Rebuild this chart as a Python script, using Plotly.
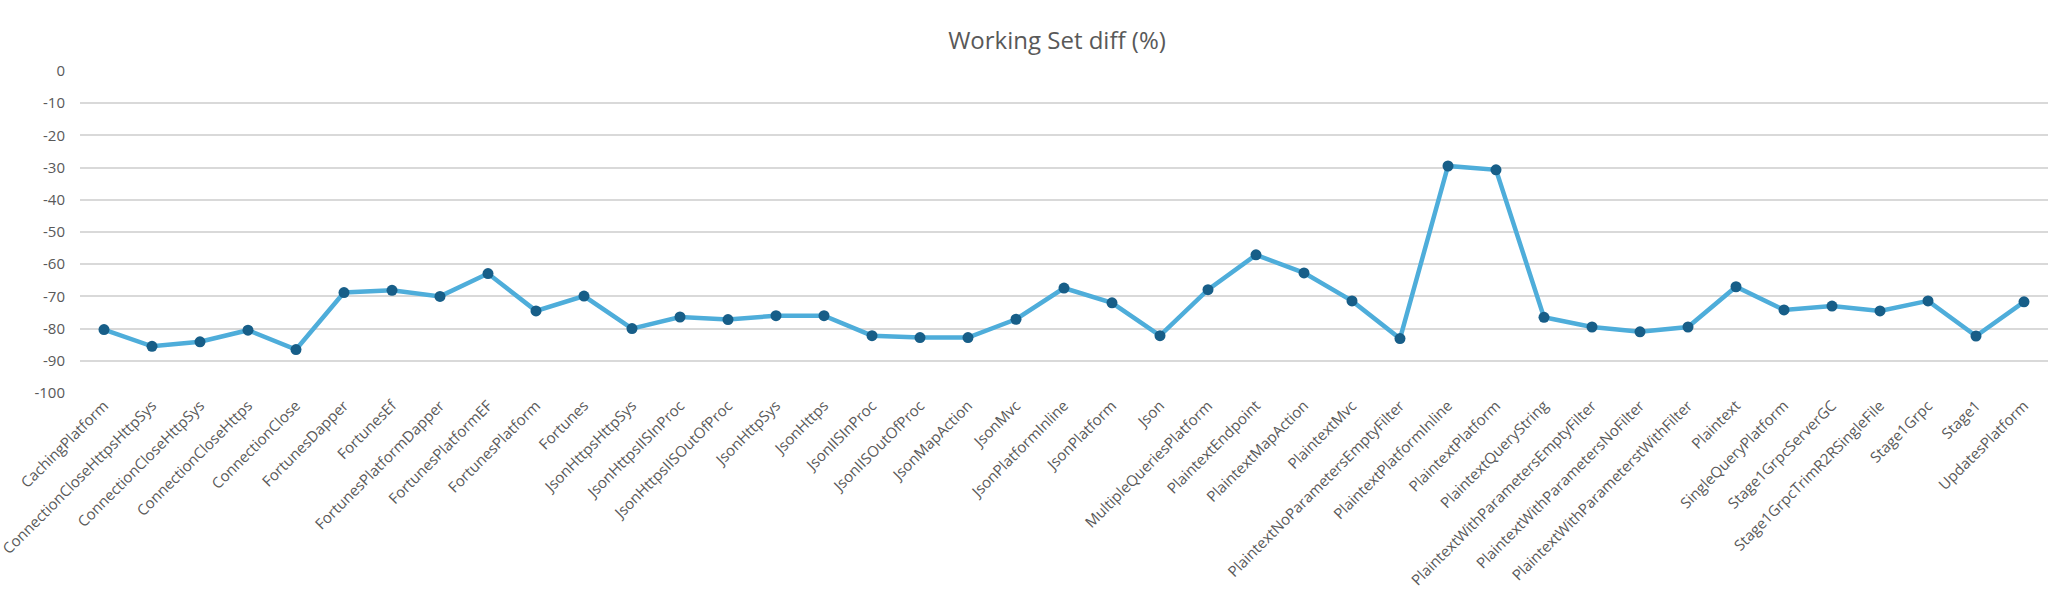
import plotly.graph_objects as go

categories = [
    "CachingPlatform", "ConnectionCloseHttpsHttpSys", "ConnectionCloseHttpSys",
    "ConnectionCloseHttps", "ConnectionClose", "FortunesDapper", "FortunesEf",
    "FortunesPlatformDapper", "FortunesPlatformEF", "FortunesPlatform", "Fortunes",
    "JsonHttpsHttpSys", "JsonHttpsIISInProc", "JsonHttpsIISOutOfProc", "JsonHttpSys",
    "JsonHttps", "JsonIISInProc", "JsonIISOutOfProc", "JsonMapAction", "JsonMvc",
    "JsonPlatformInline", "JsonPlatform", "Json", "MultipleQueriesPlatform",
    "PlaintextEndpoint", "PlaintextMapAction", "PlaintextMvc",
    "PlaintextNoParametersEmptyFilter", "PlaintextPlatformInline", "PlaintextPlatform",
    "PlaintextQueryString", "PlaintextWithParametersEmptyFilter",
    "PlaintextWithParametersNoFilter", "PlaintextWithParameterstWithFilter",
    "Plaintext", "SingleQueryPlatform", "Stage1GrpcServerGC",
    "Stage1GrpcTrimR2RSingleFile", "Stage1Grpc", "Stage1", "UpdatesPlatform",
]

working_set_diff = [
    -80.3, -85.5, -84.1, -80.5, -86.5, -68.8, -68.1, -70.0, -62.9, -74.5, -69.9,
    -80.0, -76.4, -77.2, -76.0, -76.0, -82.2, -82.8, -82.8, -77.1,
    -67.4, -72.0, -82.2, -67.9,
    -57.1, -62.7, -71.4,
    -83.1, -29.5, -30.7,
    -76.5, -79.5, -81.0, -79.5,
    -67.0, -74.2, -73.0, -74.5, -71.4, -82.3, -71.7,
]

y_ticks = [0, -10, -20, -30, -40, -50, -60, -70, -80, -90, -100]

title_text = "Working Set diff (%)"

fig = go.Figure()
fig.add_trace(go.Scatter(
    x=categories,
    y=working_set_diff,
    mode="lines+markers",
    line=dict(color="#4EADDA", width=4.5),
    marker=dict(color="#175E88", size=11),
    showlegend=False,
))

font_family = "Open Sans, Liberation Sans, sans-serif"

fig.update_layout(
    width=2064,
    height=603,
    paper_bgcolor="white",
    plot_bgcolor="white",
    margin=dict(l=80, r=16, t=71, b=210, autoexpand=False),
    title=dict(
        text=title_text,
        x=1057 / 2064,
        xanchor="center",
        y=1 - 41 / 603,
        yanchor="middle",
        font=dict(family=font_family, size=24, color="#595959"),
    ),
    font=dict(family=font_family, color="#595959", size=15),
)

fig.update_xaxes(
    type="category",
    range=[-0.5, len(categories) - 0.5],
    tickangle=-45,
    automargin=False,
    showgrid=False,
    showline=False,
    zeroline=False,
    ticks="",
    tickfont=dict(family=font_family, size=15, color="#595959"),
)

fig.update_yaxes(
    range=[-100, 0],
    automargin=False,
    tickvals=y_ticks,
    ticktext=[str(v) for v in y_ticks],
    showgrid=True,
    gridcolor="#D9D9D9",
    gridwidth=1.5,
    zeroline=False,
    showline=False,
    ticks="",
    ticklabelstandoff=14,
    tickfont=dict(family=font_family, size=15, color="#595959"),
)

fig.write_html(
    "out.html",
    config={"displayModeBar": False},
    post_script="document.body.style.margin='0';",
)
